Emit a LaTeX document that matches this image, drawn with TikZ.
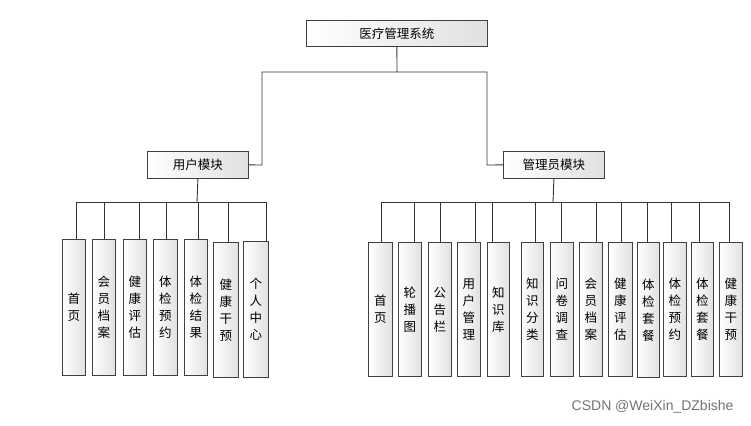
\documentclass[tikz,border=0pt]{standalone}
\usepackage{fontspec}
\newfontfamily\cjk{Noto Sans CJK SC}
\begin{document}
\begin{tikzpicture}[x=1pt,y=-1pt,
 box/.style={draw=black!75,line width=0.8pt,left color=white,right color=black!12,inner sep=0pt,font=\cjk\fontsize{12.5}{17}\selectfont,align=center,anchor=north west},
 ln/.style={line width=0.9pt,black!80}]
\useasboundingbox (0,0) rectangle (751,425);
\newcommand\bx[6]{\node[box,minimum width=#4-#2,minimum height=#5-#3] (#1) at (#2,#3) {#6};}
\bx{root}{306}{20}{487}{46}{医疗管理系统}
\bx{user}{147}{151}{248}{178}{用户模块}
\bx{admin}{503}{151}{604}{178}{管理员模块}
\draw[ln] (root.south) -- (397,72) -| (262,165) -- (user.east);
\draw[ln] (397,72) -| (487,165) -- (admin.west);
\draw[ln] (user.south) -- (197,202);
\draw[ln] (76,202) -- (266,202);
\draw[ln] (admin.south) -- (553,202);
\draw[ln] (381,202) -- (729,202);
\foreach \n/\a/\b/\t/\bt/\vx/\txt in {
 u1/62/85/239/375/76/首\\页,
 u2/92/115/239/375/104/会\\员\\档\\案,
 u3/123/146/239/375/139/健\\康\\评\\估,
 u4/153/177/239/375/166/体\\检\\预\\约,
 u5/184/207/239/375/198/体\\检\\结\\果,
 u6/213/238/242/377/228/健\\康\\干\\预,
 u7/243/268/241/377/266/个\\人\\中\\心,
 a1/368/392/242/376/381/首\\页,
 a2/398/421/242/376/414/轮\\播\\图,
 a3/428/451/242/376/440/公\\告\\栏,
 a4/457/480/242/376/475/用\\户\\管\\理,
 a5/487/509/242/376/492/知\\识\\库,
 a6/521/543/242/376/535/知\\识\\分\\类,
 a7/550/573/242/376/561/问\\卷\\调\\查,
 a8/579/602/242/376/596/会\\员\\档\\案,
 a9/608/632/242/376/621/健\\康\\评\\估,
 a10/637/659/242/377/647/体\\检\\套\\餐,
 a11/663/686/242/376/671/体\\检\\预\\约,
 a12/691/713/242/376/699/体\\检\\套\\餐,
 a13/719/742/242/376/729/健\\康\\干\\预}{
 \node[box,minimum width=\b-\a,minimum height=\bt-\t] (\n) at (\a,\t) {\txt};
 \coordinate (\n t) at (\vx,202);
 \draw[ln] (\n t) -- (\vx,\t);
}
\node[text=black!55,font=\fontspec{Liberation Sans}\fontsize{14}{16}\selectfont,anchor=east] (wm) at (737,407) {CSDN @WeiXin\_DZbishe};
\end{tikzpicture}
\end{document}
